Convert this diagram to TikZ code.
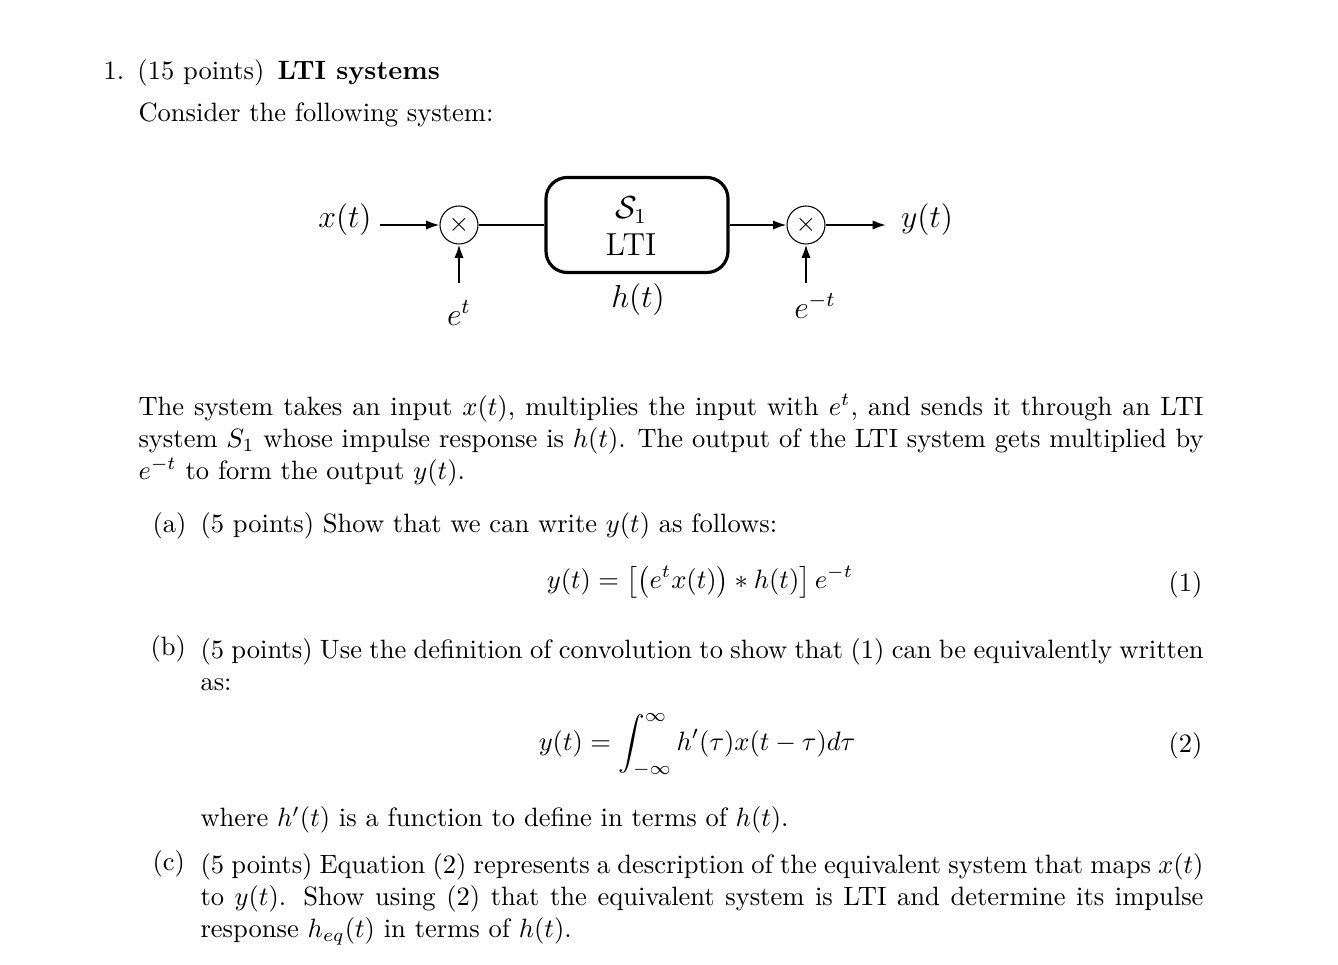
\documentclass[tikz,border=0pt]{standalone}
\usepackage{amsmath}
\usetikzlibrary{arrows.meta}
\begin{document}
\begin{tikzpicture}[x=0.377pt,y=-0.377pt,
  txt/.style={anchor=base west,inner sep=0pt},
  par/.style={anchor=north west,inner sep=0pt,align=justify},
  mult/.style={draw,circle,minimum size=38*0.377pt,inner sep=0pt},
  arr/.style={-{Latex[length=5pt,width=3.5pt]},line width=0.8pt},
  ln/.style={line width=0.8pt}]
\useasboundingbox (0,0) rectangle (1338,965);
\node[txt] (h1) at (103,80) {1.\enspace (15 points)\enspace \textbf{LTI systems}};
\node[txt] (h2) at (138,122) {Consider the following system:};
% diagram
\node[font=\large] (x) at (345,220) {$x(t)$};
\node[mult] (m1) at (459,225) {$\times$};
\node[draw,rounded corners=8pt,line width=1.2pt,minimum width=182*0.377pt,minimum height=95*0.377pt] (S) at (637,225) {};
\node[font=\large] (s1) at (631,210) {$\mathcal{S}_1$};
\node[font=\large] (lti) at (631,245) {LTI};
\node[font=\large] (ht) at (638,300) {$h(t)$};
\node[mult] (m2) at (806,225) {$\times$};
\node[font=\large] (y) at (927,220) {$y(t)$};
\node[font=\large] (e1) at (459,313) {$e^t$};
\node[font=\large] (e2) at (815,306) {$e^{-t}$};
\coordinate (xo) at (380,225);
\coordinate (yo) at (886,225);
\coordinate (b1) at (459,283);
\coordinate (b2) at (806,283);
\draw[arr] (xo) -- (m1);
\draw[ln] (m1) -- (S.west|-m1);
\draw[arr] (S.east|-m2) -- (m2);
\draw[arr] (m2) -- (yo);
\draw[arr] (b1) -- (m1);
\draw[arr] (b2) -- (m2);
% paragraph
\node[par,text width=1065*0.377pt] (p1) at (138,394) {The system takes an input $x(t)$, multiplies the input with $e^t$, and sends it through an LTI system $S_1$ whose impulse response is $h(t)$. The output of the LTI system gets multiplied by $e^{-t}$ to form the output $y(t)$.};
\node[txt] (la) at (152,533) {(a)};
\node[txt] (ta) at (200,533) {(5 points) Show that we can write $y(t)$ as follows:};
\node[inner sep=0pt] (eq1) at (700,582) {$\displaystyle y(t)=\big[\big(e^tx(t)\big)*h(t)\big]\,e^{-t}$};
\node[inner sep=0pt,anchor=east] (n1) at (1203,585) {(1)};
\node[txt] (lb) at (150,656) {(b)};
\node[par,text width=1003*0.377pt] (pb) at (200,638) {(5 points) Use the definition of convolution to show that (1) can be equivalently written as:};
\node[inner sep=0pt] (eq2) at (697,745) {$\displaystyle y(t)=\int_{-\infty}^{\infty}h'(\tau)x(t-\tau)d\tau$};
\node[inner sep=0pt,anchor=east] (n2) at (1203,746) {(2)};
\node[txt] (wh) at (200,827) {where $h'(t)$ is a function to define in terms of $h(t)$.};
\node[txt] (lc) at (152,871) {(c)};
\node[par,text width=1003*0.377pt] (pc) at (200,853) {(5 points) Equation (2) represents a description of the equivalent system that maps $x(t)$ to $y(t)$. Show using (2) that the equivalent system is LTI and determine its impulse response $h_{eq}(t)$ in terms of $h(t)$.};
\end{tikzpicture}
\end{document}
